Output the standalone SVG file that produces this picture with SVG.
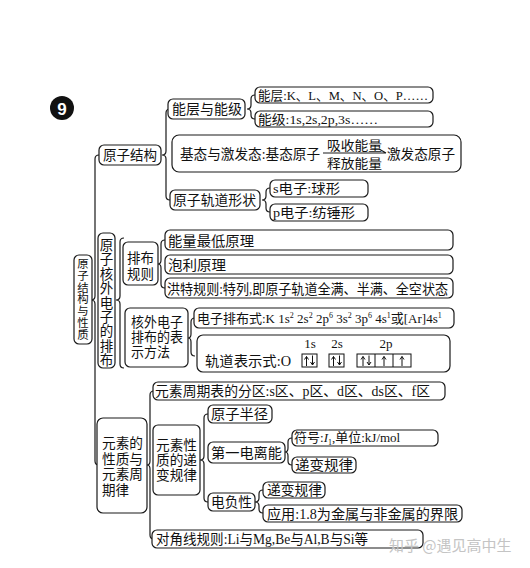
<svg xmlns="http://www.w3.org/2000/svg" width="530" height="568" viewBox="0 0 530 568">
<style>
.b{fill:#fff;stroke:#1a1a1a;stroke-width:1.2}
.c{fill:none;stroke:#1a1a1a;stroke-width:1.2}
text{font-family:"Liberation Serif","Noto Sans CJK SC",serif;fill:#111;font-size:14px}
.s{font-size:13px}
.v{text-anchor:middle}
.ar{fill:none;stroke:#111;stroke-width:1}
.wm{fill:#c4c4c4;font-family:"Noto Sans CJK SC","Liberation Sans",sans-serif;font-size:15px}
</style>
<rect width="530" height="568" fill="#fff"/>
<g id="badge"><circle cx="62" cy="108" r="12" fill="#111"/><text x="62" y="114.5" class="v" style="fill:#fff;font-family:'Liberation Sans',sans-serif;font-weight:bold;font-size:17px">9</text></g>
<g id="connectors">
<path class="c" d="M99 155 Q95 155 95 159 L95 296 Q95 300 91 300 Q95 300 95 304 L95 461 Q95 465 99 465"/>
<path class="c" d="M170 109 Q166 109 166 113 L166 151 Q166 155 162 155 Q166 155 166 159 L166 196 Q166 200 170 200"/>
<path class="c" d="M255 95 Q251 95 251 99 L251 105 Q251 109 247 109 Q251 109 251 113 L251 115 Q251 119 255 119"/>
<path class="c" d="M270 188 Q266 188 266 192 L266 196 Q266 200 262 200 Q266 200 266 204 L266 208 Q266 212 270 212"/>
<path class="c" d="M124 238 Q120 238 120 242 L120 296 Q120 300 116 300 Q120 300 120 304 L120 364 Q120 368 124 368"/>
<path class="c" d="M165 240 Q161 240 161 244 L161 260 Q161 264 158 264 Q161 264 161 268 L161 284 Q161 288 165 288"/>
<path class="c" d="M195 318 Q191 318 191 322 L191 334 Q191 338 188 338 Q191 338 191 342 L191 352 Q191 356 195 356"/>
<path class="c" d="M154 391 Q150 391 150 395 L150 461 Q150 465 147 465 Q150 465 150 469 L150 535 Q150 539 154 539"/>
<path class="c" d="M208 414 Q204 414 204 418 L204 456 Q204 460 200 460 Q204 460 204 464 L204 498 Q204 502 208 502"/>
<path class="c" d="M292 438 Q288 438 288 442 L288 448 Q288 452 285 452 Q288 452 288 456 L288 461 Q288 465 292 465"/>
<path class="c" d="M263 490 Q259 490 259 494 L259 498 Q259 502 255 502 Q259 502 259 506 L259 509 Q259 513 263 513"/>
</g>
<g id="root"><rect class="b" x="74" y="255" width="18" height="89" rx="5"/>
<text class="v" style="font-size:11.4px" x="83"><tspan x="83" y="268">原</tspan><tspan x="83" y="279.8">子</tspan><tspan x="83" y="291.6">结</tspan><tspan x="83" y="303.4">构</tspan><tspan x="83" y="315.2">与</tspan><tspan x="83" y="327">性</tspan><tspan x="83" y="338.8">质</tspan></text></g>
<g id="n-yzjg"><rect class="b" x="99" y="145" width="62" height="20" rx="5"/><text x="103" y="160" textLength="54" lengthAdjust="spacingAndGlyphs">原子结构</text></g>
<g id="n-ncynj"><rect class="b" x="168" y="99" width="77" height="20" rx="5"/><text x="172" y="114" textLength="70" lengthAdjust="spacingAndGlyphs">能层与能级</text></g>
<g id="n-nc"><rect class="b" x="255" y="87" width="178" height="16" rx="5"/><text class="s" x="258" y="100" textLength="170" lengthAdjust="spacingAndGlyphs">能层:K、L、M、N、O、P……</text></g>
<g id="n-nj"><rect class="b" x="255" y="111" width="178" height="16" rx="5"/><text class="s" x="258" y="124" textLength="120" lengthAdjust="spacingAndGlyphs">能级:1s,2s,2p,3s……</text></g>
<g id="n-jt"><rect class="b" x="172" y="135" width="289" height="37" rx="7"/>
<text x="180" y="159" textLength="140" lengthAdjust="spacingAndGlyphs">基态与激发态:基态原子</text>
<text class="s" x="327" y="150" textLength="55" lengthAdjust="spacingAndGlyphs">吸收能量</text>
<text class="s" x="327" y="168" textLength="55" lengthAdjust="spacingAndGlyphs">释放能量</text>
<path class="c" d="M323 153 L386 153 M386 153 L379 149"/>
<text x="387" y="159" textLength="68" lengthAdjust="spacingAndGlyphs">激发态原子</text></g>
<g id="n-gdxz"><rect class="b" x="170" y="190" width="90" height="20" rx="5"/><text x="173" y="205" textLength="83" lengthAdjust="spacingAndGlyphs">原子轨道形状</text></g>
<g id="n-s"><rect class="b" x="270" y="180" width="98" height="17" rx="5"/><text class="s" x="273" y="193" textLength="67" lengthAdjust="spacingAndGlyphs">s电子:球形</text></g>
<g id="n-p"><rect class="b" x="270" y="204" width="98" height="17" rx="5"/><text class="s" x="273" y="217" textLength="82" lengthAdjust="spacingAndGlyphs">p电子:纺锤形</text></g>
<g id="n-hwdz"><rect class="b" x="98" y="233" width="17" height="135" rx="5"/>
<text class="v" style="font-size:13.5px"><tspan x="106.5" y="250">原</tspan><tspan x="106.5" y="264.4">子</tspan><tspan x="106.5" y="278.8">核</tspan><tspan x="106.5" y="293.2">外</tspan><tspan x="106.5" y="307.6">电</tspan><tspan x="106.5" y="322">子</tspan><tspan x="106.5" y="336.4">的</tspan><tspan x="106.5" y="350.8">排</tspan><tspan x="106.5" y="365.2">布</tspan></text></g>
<g id="n-pbgz"><rect class="b" x="123" y="242" width="35" height="43" rx="5"/><text x="127" y="263" textLength="27" lengthAdjust="spacingAndGlyphs">排布</text><text x="127" y="279" textLength="27" lengthAdjust="spacingAndGlyphs">规则</text></g>
<g id="n-nlzd"><rect class="b" x="165" y="230" width="288" height="20" rx="5"/><text x="168" y="246" textLength="86" lengthAdjust="spacingAndGlyphs">能量最低原理</text></g>
<g id="n-pl"><rect class="b" x="165" y="255" width="288" height="19" rx="5"/><text x="168" y="270" textLength="58" lengthAdjust="spacingAndGlyphs">泡利原理</text></g>
<g id="n-ht"><rect class="b" x="165" y="278" width="288" height="20" rx="5"/><text x="167" y="294" textLength="281" lengthAdjust="spacingAndGlyphs">洪特规则:特列,即原子轨道全满、半满、全空状态</text></g>
<g id="n-bsff"><rect class="b" x="125" y="308" width="63" height="59" rx="5"/><text x="131" y="327" textLength="52" lengthAdjust="spacingAndGlyphs">核外电子</text><text x="131" y="342" textLength="52" lengthAdjust="spacingAndGlyphs">排布的表</text><text x="131" y="357" textLength="39" lengthAdjust="spacingAndGlyphs">示方法</text></g>
<g id="n-dzpbs"><rect class="b" x="194" y="308" width="260" height="20" rx="5"/>
<text class="s" x="197" y="323">电子排布式:K 1s<tspan dy="-5" style="font-size:8px">2</tspan><tspan dy="5"> 2s</tspan><tspan dy="-5" style="font-size:8px">2</tspan><tspan dy="5"> 2p</tspan><tspan dy="-5" style="font-size:8px">6</tspan><tspan dy="5"> 3s</tspan><tspan dy="-5" style="font-size:8px">2</tspan><tspan dy="5"> 3p</tspan><tspan dy="-5" style="font-size:8px">6</tspan><tspan dy="5"> 4s</tspan><tspan dy="-5" style="font-size:8px">1</tspan><tspan dy="5">或[Ar]4s</tspan><tspan dy="-5" style="font-size:8px">1</tspan></text></g>
<g id="n-gdbss"><rect class="b" x="197" y="335" width="253" height="37" rx="6"/>
<text x="205" y="366" textLength="86" lengthAdjust="spacingAndGlyphs">轨道表示式:O</text>
<text class="s v" x="310" y="348">1s</text><text class="s v" x="337" y="348">2s</text><text class="s v" x="386" y="348">2p</text>
<rect class="ar" x="302" y="354" width="15" height="13"/><rect class="ar" x="329" y="354" width="15" height="13"/><rect class="ar" x="357" y="354" width="54" height="13"/>
<path class="ar" d="M375 354 V367 M393 354 V367"/>
<path class="ar" d="M306.5 366 V356.5 M304.5 359.5 L306.5 356.5 L308.5 359.5 M312.5 355.5 V365 M310.5 362 L312.5 365 L314.5 362"/>
<path class="ar" d="M333.5 366 V356.5 M331.5 359.5 L333.5 356.5 L335.5 359.5 M339.5 355.5 V365 M337.5 362 L339.5 365 L341.5 362"/>
<path class="ar" d="M363 366 V356.5 M361 359.5 L363 356.5 L365 359.5 M369 355.5 V365 M367 362 L369 365 L371 362"/>
<path class="ar" d="M384 366 V356.5 M382 359.5 L384 356.5 L386 359.5"/>
<path class="ar" d="M402 366 V356.5 M400 359.5 L402 356.5 L404 359.5"/></g>
<g id="n-ysxz"><rect class="b" x="97" y="418" width="50" height="95" rx="6"/><text x="102" y="448" textLength="41" lengthAdjust="spacingAndGlyphs">元素的</text><text x="102" y="463.5" textLength="41" lengthAdjust="spacingAndGlyphs">性质与</text><text x="102" y="479" textLength="41" lengthAdjust="spacingAndGlyphs">元素周</text><text x="102" y="494.5" textLength="27" lengthAdjust="spacingAndGlyphs">期律</text></g>
<g id="n-fq"><rect class="b" x="153" y="382" width="292" height="18" rx="5"/><text x="155" y="396" textLength="275" lengthAdjust="spacingAndGlyphs">元素周期表的分区:s区、p区、d区、ds区、f区</text></g>
<g id="n-djgl"><rect class="b" x="153" y="425" width="47" height="70" rx="5"/><text x="156" y="450" textLength="41" lengthAdjust="spacingAndGlyphs">元素性</text><text x="156" y="465" textLength="41" lengthAdjust="spacingAndGlyphs">质的递</text><text x="156" y="480" textLength="41" lengthAdjust="spacingAndGlyphs">变规律</text></g>
<g id="n-bj"><rect class="b" x="208" y="405" width="64" height="18" rx="5"/><text x="211" y="419" textLength="57" lengthAdjust="spacingAndGlyphs">原子半径</text></g>
<g id="n-dyl"><rect class="b" x="208" y="442" width="77" height="21" rx="5"/><text x="211" y="458" textLength="71" lengthAdjust="spacingAndGlyphs">第一电离能</text></g>
<g id="n-fh"><rect class="b" x="292" y="430" width="146" height="16" rx="5"/><text class="s" x="294" y="442">符号:<tspan font-style="italic">I</tspan><tspan dy="3" style="font-size:8px">1</tspan><tspan dy="-3">,单位:kJ/mol</tspan></text></g>
<g id="n-dbgl1"><rect class="b" x="292" y="457" width="64" height="16" rx="5"/><text x="295" y="469.5" textLength="58" lengthAdjust="spacingAndGlyphs">递变规律</text></g>
<g id="n-dfx"><rect class="b" x="208" y="493" width="47" height="18" rx="5"/><text x="211" y="507" textLength="41" lengthAdjust="spacingAndGlyphs">电负性</text></g>
<g id="n-dbgl2"><rect class="b" x="263" y="482" width="62" height="16" rx="5"/><text x="267" y="494.5" textLength="55" lengthAdjust="spacingAndGlyphs">递变规律</text></g>
<g id="n-yy"><rect class="b" x="263" y="505" width="199" height="17" rx="5"/><text x="267" y="518.5" textLength="191" lengthAdjust="spacingAndGlyphs">应用:1.8为金属与非金属的界限</text></g>
<g id="n-djx"><rect class="b" x="152" y="530" width="271" height="18" rx="5"/><text x="156" y="544" textLength="212" lengthAdjust="spacingAndGlyphs">对角线规则:Li与Mg,Be与Al,B与Si等</text></g>
<text class="wm" x="389" y="551">知乎 @遇见高中生</text>
</svg>
